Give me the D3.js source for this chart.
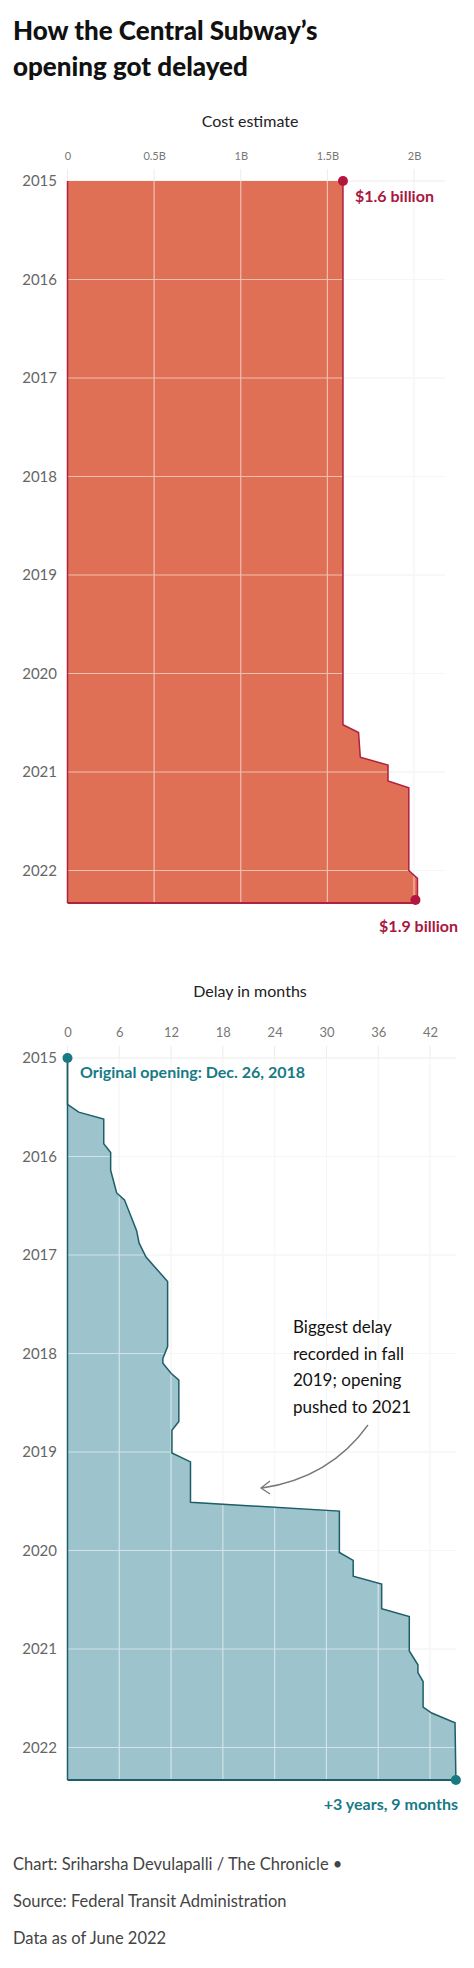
<!DOCTYPE html>
<html><head><meta charset="utf-8">
<script src="https://cdn.jsdelivr.net/npm/d3@7"></script>
<style>body{margin:0;background:#fff}svg{display:block;font-family:Lato,"Open Sans",sans-serif}</style>
</head><body><svg id="c" width="474" height="1968"></svg>
<script>
const years=[2015,2016,2017,2018,2019,2020,2021,2022];
const costTicks=[0,0.5,1,1.5,2];
const costTickLabels=["0","0.5B","1B","1.5B","2B"];
const costT=[2015,2020.52,2020.6,2020.85,2020.93,2021.09,2021.16,2022.0,2022.08,2022.33];
const costV=[1.59,1.59,1.68,1.69,1.85,1.85,1.97,1.97,2.02,2.02];
const delayTicks=[0,6,12,18,24,30,36,42];
const delayT=[2015,2015.47,2015.55,2015.62,2015.87,2015.96,2016.14,2016.37,2016.44,2016.75,2016.88,2017.02,2017.27,2017.93,2018.05,2018.1,2018.2,2018.27,2018.69,2018.78,2019.01,2019.1,2019.51,2019.6,2020.02,2020.1,2020.26,2020.34,2020.59,2020.67,2021.02,2021.16,2021.24,2021.33,2021.59,2021.65,2021.75,2022.33];
const delayV=[0,0,1.3,4.2,4.2,5.0,5.0,5.7,6.6,8.0,8.3,9.1,11.6,11.6,11.05,11.05,12.0,12.9,12.9,12.1,12.1,14.25,14.25,31.5,31.5,33.1,33.1,36.4,36.4,39.6,39.6,40.6,40.6,41.2,41.2,42.2,44.9,45];
const svg=d3.select("#c");
svg.append("text").attr("x",13).attr("y",40).attr("font-size",26).attr("font-weight",900).attr("fill","#111").text("How the Central Subway’s");
svg.append("text").attr("x",13).attr("y",76).attr("font-size",26).attr("font-weight",900).attr("fill","#111").text("opening got delayed");

function panel(o){
  const g=svg.append("g");
  const x=d3.scaleLinear().domain(o.xd).range([67.5,o.xr]);
  const y=d3.scaleLinear().domain([2015,2022.33]).range([o.y0,o.y0+98.5*7.33]);
  g.append("text").attr("x",250).attr("y",o.titleY).attr("text-anchor","middle").attr("font-size",16).attr("fill","#222").text(o.title);
  const grid=g.append("g");
  o.ticks.forEach(t=>grid.append("line").attr("x1",x(t)).attr("x2",x(t)).attr("y1",o.y0-12).attr("y2",y(2022.33)).attr("stroke","#ececec"));
  years.forEach(t=>grid.append("line").attr("x1",67.5).attr("x2",o.gx).attr("y1",y(t)).attr("y2",y(t)).attr("stroke","#ececec"));
  const pts=o.T.map((t,i)=>[o.V[i],t]);
  const area=d3.area().y(d=>y(d[1])).x0(x(0)).x1(d=>x(d[0])).curve(d3.curveLinear);
  g.append("path").datum(pts).attr("d",area).attr("fill",o.fill);
  const over=g.append("g").attr("opacity",0.55);
  o.ticks.forEach(t=>{if(t>0)over.append("line").attr("x1",x(t)).attr("x2",x(t)).attr("y1",o.y0).attr("y2",y(2022.33)).attr("stroke","#fff").attr("stroke-width",1.2)});
  years.forEach(t=>{if(t>2015)over.append("line").attr("x1",67.5).attr("x2",o.gx).attr("y1",y(t)).attr("y2",y(t)).attr("stroke","#fff").attr("stroke-width",1.2)});
  // redraw area-clipped: gray gridline outside stays light
  g.append("path").datum(pts).attr("d",d3.line().x(d=>x(d[0])).y(d=>y(d[1]))).attr("fill","none").attr("stroke",o.stroke).attr("stroke-width",1.5);
  g.append("line").attr("x1",x(0)).attr("x2",x(0)).attr("y1",y(2015)).attr("y2",y(2022.33)).attr("stroke",o.stroke).attr("stroke-width",1.5);
  g.append("line").attr("x1",x(0)).attr("x2",x(o.V[o.V.length-1])).attr("y1",y(2022.33)).attr("y2",y(2022.33)).attr("stroke",o.stroke).attr("stroke-width",2);
  const ax=d3.axisTop(x).tickValues(o.ticks).tickSize(0).tickFormat((d,i)=>o.labels[i]);
  const a=g.append("g").attr("transform",`translate(0,${o.y0-18})`).call(ax);
  a.select(".domain").remove();
  a.selectAll("text").attr("font-size",o.tfs).attr("fill","#777").attr("font-family","Lato,sans-serif");
  const ay=d3.axisLeft(y).tickValues(years).tickSize(0).tickFormat(d3.format("d"));
  const b=g.append("g").attr("transform","translate(60,0)").call(ay);
  b.select(".domain").remove();
  b.selectAll("text").attr("font-size",15).attr("fill","#666").attr("font-family","Lato,sans-serif");
  return {x,y};
}
const p1=panel({xd:[0,2],xr:414,gx:445,y0:181,titleY:127,title:"Cost estimate",ticks:costTicks,labels:costTickLabels,tfs:11,T:costT,V:costV,fill:"#e07055",stroke:"#b0203f"});
svg.append("circle").attr("cx",p1.x(costV[0])).attr("cy",p1.y(2015)).attr("r",5).attr("fill","#b5163f");
svg.append("circle").attr("cx",p1.x(costV[costV.length-1])-2).attr("cy",p1.y(2022.33)-3).attr("r",5).attr("fill","#b5163f");
svg.append("text").attr("x",355).attr("y",202).attr("font-size",16).attr("font-weight",700).attr("fill","#a8173f").text("$1.6 billion");
svg.append("text").attr("x",458).attr("y",932).attr("text-anchor","end").attr("font-size",16).attr("font-weight",700).attr("fill","#a8173f").text("$1.9 billion");

const p2=panel({xd:[0,42],xr:430,gx:456,y0:1058,titleY:997,title:"Delay in months",ticks:delayTicks,labels:delayTicks.map(String),tfs:13,T:delayT,V:delayV,fill:"#9dc3cc",stroke:"#1d5e68"});
svg.append("circle").attr("cx",p2.x(0)).attr("cy",p2.y(2015)).attr("r",5).attr("fill","#177a85");
svg.append("circle").attr("cx",p2.x(45)).attr("cy",p2.y(2022.33)).attr("r",5).attr("fill","#177a85");
svg.append("text").attr("x",80).attr("y",1078).attr("font-size",16).attr("font-weight",700).attr("fill","#177a85").text("Original opening: Dec. 26, 2018");
svg.append("text").attr("x",458).attr("y",1810).attr("text-anchor","end").attr("font-size",16).attr("font-weight",700).attr("fill","#177a85").text("+3 years, 9 months");
["Biggest delay","recorded in fall","2019; opening","pushed to 2021"].forEach((s,i)=>svg.append("text").attr("x",293).attr("y",1333+i*26.5).attr("font-size",17).attr("fill","#111").text(s));
svg.append("path").attr("d","M368,1425 Q330,1478 262,1488").attr("fill","none").attr("stroke","#777").attr("stroke-width",1.3);
svg.append("path").attr("d","M270,1481 L261,1488 L270,1494").attr("fill","none").attr("stroke","#777").attr("stroke-width",1.3);
["Chart: Sriharsha Devulapalli / The Chronicle •","Source: Federal Transit Administration","Data as of June 2022"].forEach((s,i)=>svg.append("text").attr("x",13).attr("y",1870+i*37).attr("font-size",16.5).attr("fill","#444").text(s));
</script></body></html>
